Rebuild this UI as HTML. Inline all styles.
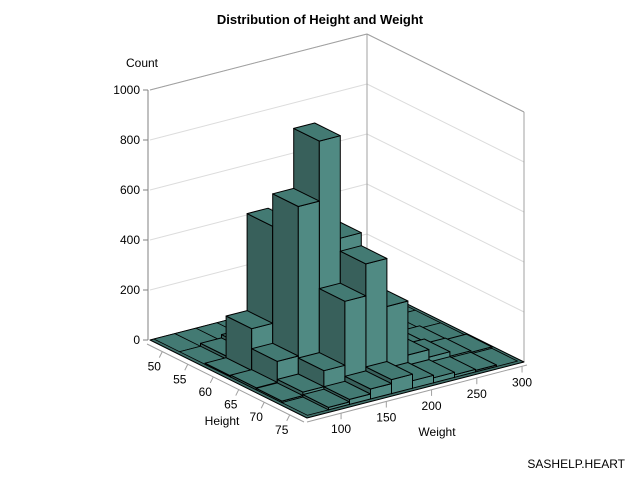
<!DOCTYPE html>
<html><head><meta charset="utf-8"><style>
html,body{margin:0;padding:0;background:#fff;}
svg{display:block;font-family:"Liberation Sans",sans-serif;}
</style></head><body>
<svg id="s" width="640" height="480" viewBox="0 0 640 480" xmlns="http://www.w3.org/2000/svg">
<rect width="640" height="480" fill="#fff"/>
<text x="320" y="24" font-size="13" font-weight="bold" text-anchor="middle">Distribution of Height and Weight</text>
<text x="142" y="67" font-size="12" text-anchor="middle">Count</text>
<text x="222" y="425" font-size="12" text-anchor="middle">Height</text>
<text x="437" y="436" font-size="12" text-anchor="middle">Weight</text>
<text x="625" y="468" font-size="12" text-anchor="end">SASHELP.HEART</text>
<g id="g"></g>
</svg>
<script>
(function(){
var g=document.getElementById('g');
function P(u,v,h){return [150+157*u+217*v, 340+78*u-56*v-0.25*h];}
function pts(a){return a.map(function(p){return p[0].toFixed(1)+','+p[1].toFixed(1);}).join(' ');}
var out='';
function line(a,b,c,w){out+='<line x1="'+a[0]+'" y1="'+a[1]+'" x2="'+b[0]+'" y2="'+b[1]+'" stroke="'+c+'" stroke-width="'+(w||1)+'"/>';}
function poly(a,f,sw){out+='<polygon points="'+pts(a)+'" fill="'+f+'" stroke="#000" stroke-width="'+(sw||1)+'" stroke-linejoin="round"/>';}
for(var c=200;c<=1000;c+=200){
  var a=P(0,0,c),b=P(0,1,c),d=P(1,1,c);
  line(a,b,'#dcdcdc');line(b,d,'#dcdcdc');
}
var L=P(0,0,0),B=P(0,1,0),R=P(1,1,0),F=P(1,0,0);
var Lt=P(0,0,1000),Bt=P(0,1,1000),Rt=P(1,1,1000);
line([B[0],B[1]],[Bt[0],Bt[1]],'#a0a0a0');
line([R[0],R[1]],[Rt[0],Rt[1]],'#a0a0a0');
line(Lt,Bt,'#a0a0a0');line(Bt,Rt,'#a0a0a0');
line([148,L[1]],[148,Lt[1]],'#808080');
for(var c=0;c<=1000;c+=200){var y=340-0.25*c;line([143,y],[148,y],'#808080');
 out+='<text x="140" y="'+(y+4)+'" font-size="12" text-anchor="end">'+c+'</text>';}
poly([L,F,R,B],'#3f6f69',1);
line([L[0]-3,L[1]+4],[F[0]-3,F[1]+4],'#a0a0a0');
for(var hv=50;hv<=75;hv+=5){var u=(hv-47)/30.8;var p=P(u,0,0);
 line([p[0]-3,p[1]+4],[p[0]-6,p[1]+10],'#a0a0a0');
 out+='<text x="'+(p[0]-11)+'" y="'+(p[1]+23)+'" font-size="12" text-anchor="middle">'+hv+'</text>';}
line([F[0],F[1]+4],[R[0]+3,R[1]+3],'#a0a0a0');
for(var wv=100;wv<=300;wv+=50){var v=0.157+(wv-100)/50*0.2085;var p=P(1,v,0);
 line([p[0],p[1]+4],[p[0],p[1]+10],'#a0a0a0');
 out+='<text x="'+(p[0])+'" y="'+(p[1]+24)+'" font-size="12" text-anchor="middle">'+wv+'</text>';}
var du=0.163,dv=0.0968,v0f=0.018;
var H={};
function s(i,j,h){H[i+','+j]=h;}
s(1,1,12);s(1,2,25);s(1,3,30);s(1,4,10);
s(2,0,5);s(2,1,172);s(2,2,560);s(2,3,500);s(2,4,300);s(2,5,100);s(2,6,20);s(2,7,10);
s(3,0,8);s(3,1,92);s(3,2,690);s(3,3,930);s(3,4,520);s(3,5,160);s(3,6,50);s(3,7,20);s(3,8,10);
s(4,0,6);s(4,1,20);s(4,2,84);s(4,3,340);s(4,4,468);s(4,5,276);s(4,6,60);s(4,7,30);s(4,8,12);s(4,9,6);
s(5,1,10);s(5,2,20);s(5,3,40);s(5,4,56);s(5,5,30);s(5,6,20);s(5,7,10);s(5,8,6);
var cTop='#437a73',cDark='#38605b',cLight='#508a83';
for(var i=0;i<6;i++){for(var j=9;j>=0;j--){
 var h=H[i+','+j]||0;
 var u0=i*du,u1=(i+1)*du,va=v0f+j*dv,vb=v0f+(j+1)*dv;
 if(h>0){
  poly([P(u0,va,0),P(u1,va,0),P(u1,va,h),P(u0,va,h)],cDark,1);
  poly([P(u1,va,0),P(u1,vb,0),P(u1,vb,h),P(u1,va,h)],cLight,1);
 }
 poly([P(u0,va,h),P(u0,vb,h),P(u1,vb,h),P(u1,va,h)],cTop,h>0?1:0.8);
}}
g.innerHTML=out;
})();
</script>
</body></html>
